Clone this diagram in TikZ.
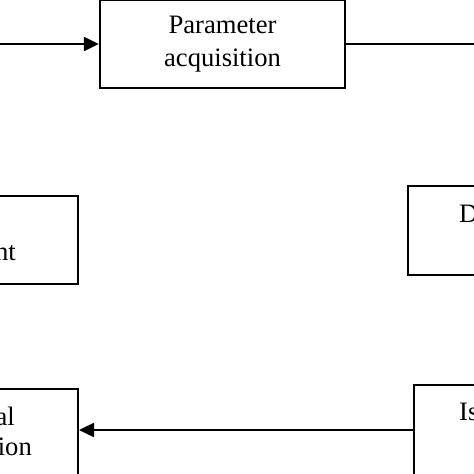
\documentclass[tikz,border=0pt]{standalone}
\usepackage{fontspec}
\setmainfont{Liberation Serif}
\usetikzlibrary{arrows.meta}
\begin{document}
\begin{tikzpicture}[x=1pt,y=-1pt,
  box/.style={draw=black,line width=2.4pt,rectangle,inner sep=0pt},
  txt/.style={font=\fontsize{26.6}{33}\selectfont,inner sep=0pt},
  arr/.style={line width=2.4pt,-{Triangle[length=15pt,width=14pt]}},
  ln/.style={line width=2.4pt}]
\useasboundingbox (0,0) rectangle (474,474);
\clip (0,0) rectangle (474,474);
% boxes
\node[box,minimum width=245pt,minimum height=88pt] (pa) at (222.5,44) {};
\node[txt,align=center] (patxt) at (222.5,44) {Parameter\\acquisition};
\node[box,minimum width=245pt,minimum height=88pt,anchor=north east] (lm) at (79,195) {};
\node[box,minimum width=245pt,minimum height=89pt,anchor=north west] (rm) at (407,185) {};
\node[box,minimum width=245pt,minimum height=140pt,anchor=north east] (bl) at (79,388) {};
\node[box,minimum width=245pt,minimum height=140pt,anchor=north west] (br) at (413,384) {};
% text fragments
\node[txt,anchor=base east] (lmtxt) at (16,260) {nt};
\node[txt,anchor=base west] (rmtxt) at (459,222) {D};
\node[txt,anchor=base east] (bltxt1) at (15,425) {al};
\node[txt,anchor=base east] (bltxt2) at (32,455) {ion};
\node[txt,anchor=base west] (brtxt) at (459,420) {Is};
% connectors
\coordinate (inl) at (-20,44);
\coordinate (outr) at (494,44);
\coordinate (ay) at (0,430);
\draw[arr] (inl) -- (pa.west);
\draw[ln] (pa.east) -- (outr);
\draw[arr] (br.west |- ay) -- (bl.east |- ay);
\end{tikzpicture}
\end{document}
